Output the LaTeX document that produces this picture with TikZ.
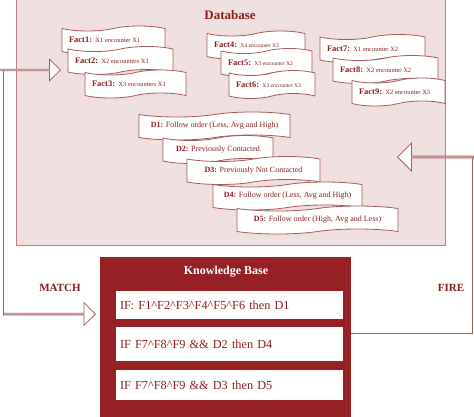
\documentclass[tikz,border=0pt]{standalone}
\usepackage{fontspec}
\setmainfont{Liberation Serif}
\usetikzlibrary{shapes.symbols,shapes.arrows}

\definecolor{dbfill}{RGB}{240,223,223}
\definecolor{dbline}{RGB}{190,128,128}
\definecolor{tapeline}{RGB}{165,90,90}
\definecolor{darkred}{RGB}{140,30,30}
\definecolor{kbred}{RGB}{150,32,36}

\newcommand{\andsym}{\textasciicircum}

\tikzset{
    fact/.style={tape, draw=tapeline, fill=white, line width=0.8pt, minimum height=28,
        inner xsep=7, inner ysep=2, text=darkred},
    decision/.style={tape, draw=tapeline, fill=white, line width=0.8pt, minimum height=28,
        inner xsep=4, inner ysep=2, text=darkred, font=\fontsize{8}{9}\selectfont},
    rulebox/.style={fill=white, minimum height=#1, inner xsep=4, text width=219pt,
        align=left, text=darkred, font=\fontsize{12.3}{13}\selectfont},
    hollow/.style={single arrow, draw=tapeline, fill=white, line width=0.8pt, inner sep=0pt,
        single arrow head extend=5, minimum width=22},
    steplabel/.style={text=darkred, font=\fontsize{11}{12}\selectfont\bfseries},
}

\begin{document}
\begin{tikzpicture}[x=1pt, y=-1pt]
    \useasboundingbox (0,0) rectangle (474,416);
    \clip (0,0) rectangle (474,416);
    \fill[white] (0,0) rectangle (474,416);

    % the database
    \node[draw=dbline, fill=dbfill, line width=0.8pt, minimum width=429, minimum height=250]
        (db) at (230.5,120) {};
    \node[text=darkred, font=\fontsize{13}{14}\selectfont\bfseries] (dbtitle) at (230,15) {Database};

    % the facts
    \foreach \n/\x/\y/\w/\s/\t in {1/113.5/40/103/6.5/X1 encounter X1, 2/120.5/60.5/105/6.5/X2 encounters X1,
            3/135.5/84/101/6.5/X3 encounters X1, 4/256/45/98/5.6/X4 encounter X3,
            5/266.5/62.5/91/5.6/X3 encounter X2, 6/272/84.5/86/5.6/X3 encounter X3,
            7/372.5/48.5/105/6.5/X1 encounter X2, 8/385.5/69.5/105/6.5/X2 encounter X2,
            9/398.5/92/93/6.5/X2 encounter X3}
    {
        \pgfmathsetmacro\tw{\w-14}
        \node[fact] (fact\n) at (\x,\y)
            {\makebox[\tw pt][l]{{\fontsize{8.5}{9}\selectfont\bfseries Fact\n:} {\fontsize{\s}{7}\selectfont \t}}};
    }

    % the decisions
    \foreach \n/\x/\y/\w/\t in {1/214.5/126/151/{Follow order (Less, Avg and High)},
            2/218/149.5/110/{Previously Contacted},
            3/253.5/170.5/133/{Previously Not Contacted},
            4/287.5/196/149/{Follow order (Less, Avg and High)},
            5/317.5/220/161/{Follow order (High, Avg and Less)}}
        \node[decision, minimum width=\w] (dec\n) at (\x,\y) {\textbf{D\n:} \t};

    % the knowledge base
    \node[fill=kbred, minimum width=251, minimum height=163] (kb) at (225.5,338.5) {};
    \node[text=white, font=\fontsize{12}{13}\selectfont\bfseries] (kbtitle) at (226,272) {Knowledge Base};
    \node[rulebox=28] (rule1) at (229.5,305) {IF: F1\andsym F2\andsym F3\andsym F4\andsym F5\andsym F6 then D1};
    \node[rulebox=34] (rule2) at (229.5,344) {IF F7\andsym F8\andsym F9 \&\& D2 then D4};
    \node[rulebox=30] (rule3) at (229.5,385) {IF F7\andsym F8\andsym F9 \&\& D3 then D5};

    % MATCH: database to knowledge base
    \node[hollow, minimum height=62] (matchin) at (29,70) {};
    \node[hollow, minimum height=92, minimum width=23] (matchout) at (49,314) {};
    \draw[tapeline, line width=0.8pt] (matchout.tail |- matchin.south) -- (matchout.tail |- matchout.north);
    \node[steplabel] (match) at (60,288) {MATCH};

    % FIRE: knowledge base back to database
    \node[hollow, minimum height=76, minimum width=28, single arrow head extend=6,
        shape border rotate=180] (firein) at (436,157) {};
    \coordinate (firecorner) at (472,333);
    \draw[tapeline, line width=0.8pt] (kb.east |- firecorner) -- (firecorner) -- (firecorner |- firein.south);
    \node[steplabel] (fire) at (451,288) {FIRE};
\end{tikzpicture}
\end{document}
